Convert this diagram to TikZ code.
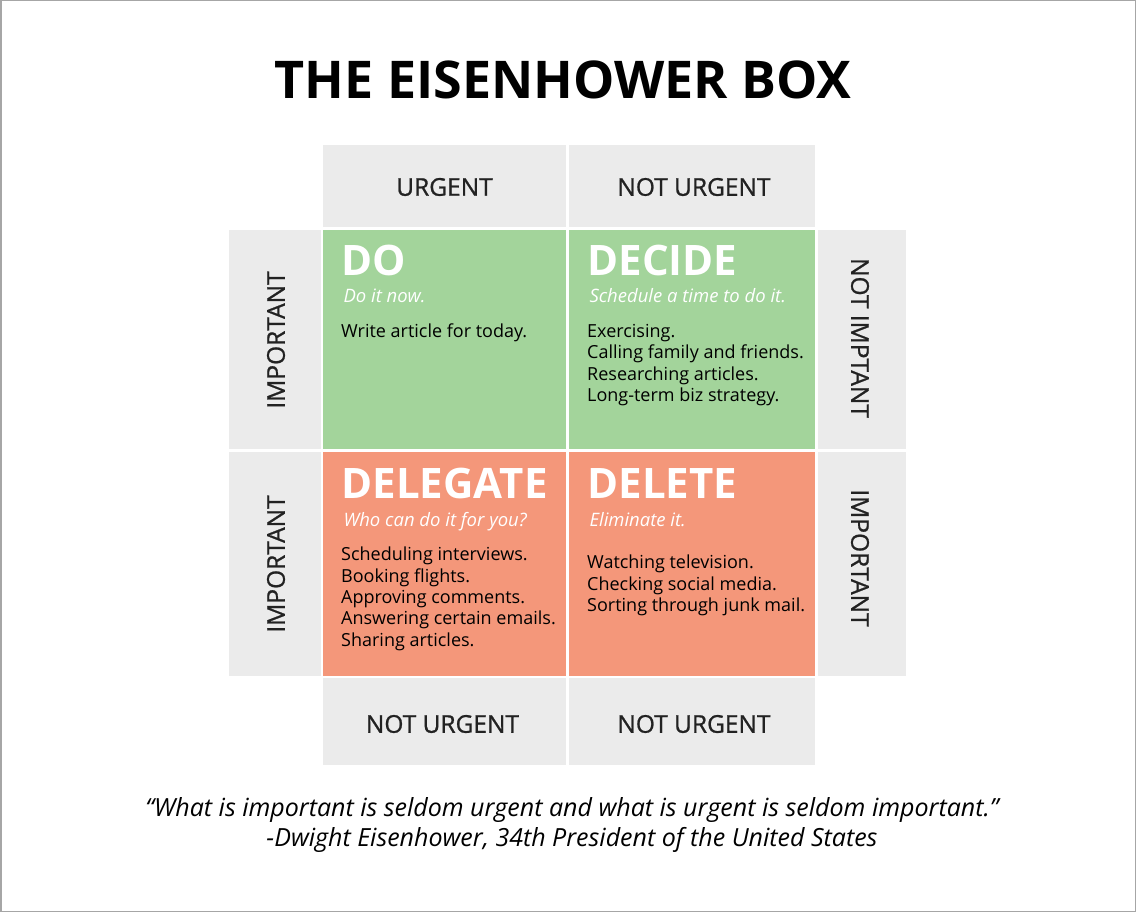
\documentclass[tikz,border=0pt]{standalone}
\usepackage{fontspec}
\setmainfont{Open Sans}
\newfontfamily\medf{Open Sans}[FakeBold=0.9]
\definecolor{gcell}{HTML}{EBEBEB}
\definecolor{grn}{HTML}{A3D49B}
\definecolor{red}{HTML}{F4977A}
\definecolor{ink}{HTML}{222222}
\begin{document}
\begin{tikzpicture}[x=1pt,y=-1pt,
 cell/.style={fill=gcell,draw=none},
 lab/.style={font=\medf\fontsize{24.5}{28}\selectfont,text=ink},
 head/.style={anchor=base west,font=\fontsize{42}{46}\selectfont\bfseries,text=white},
 sub/.style={anchor=base west,font=\fontsize{18.5}{22}\selectfont\itshape,text=white},
 body/.style={anchor=north west,align=left,font=\fontsize{18}{21.3}\selectfont,text=black,inner sep=0pt}]
\useasboundingbox (0,0) rectangle (1136,912);
\fill[white] (0,0) rectangle (1136,912);
\draw[gray!70,line width=1.5] (0.75,0.75) rectangle (1135.25,911.25);
\node (title) at (563,80) {\fontsize{52}{56}\selectfont\bfseries THE EISENHOWER BOX};
% header cells
\fill[cell] (323,145) rectangle (566,227); \fill[cell] (569,145) rectangle (815,227);
\fill[cell] (323,678) rectangle (566,765); \fill[cell] (569,678) rectangle (815,765);
\fill[cell] (229,230) rectangle (321,449); \fill[cell] (229,452) rectangle (321,676);
\fill[cell] (818,230) rectangle (906,449); \fill[cell] (818,452) rectangle (906,676);
\node[lab] (u1) at (444.5,187) {URGENT};
\node[lab] (u2) at (694,187) {NOT URGENT};
\node[lab] (u3) at (442.5,724) {NOT URGENT};
\node[lab] (u4) at (694,724) {NOT URGENT};
\node[lab,rotate=90] (l1) at (276,340) {IMPORTANT};
\node[lab,rotate=90] (l2) at (276,564) {IMPORTANT};
\node[lab,rotate=-90] (r1) at (860,338) {NOT IMPTANT};
\node[lab,rotate=-90] (r2) at (860,558) {IMPORTANT};
% quadrants
\fill[grn] (323,230) rectangle (566,449); \fill[grn] (569,230) rectangle (815,449);
\fill[red] (323,452) rectangle (566,676); \fill[red] (569,452) rectangle (815,676);
\node[head] (h1) at (338,276) {DO};
\node[sub] (s1) at (340,303) {Do it now.};
\node[body] (b1) at (341,324) {Write article for today.};
\node[head] (h2) at (584,276) {DECIDE};
\node[sub] (s2) at (586,303) {Schedule a time to do it.};
\node[body] (b2) at (587,324) {Exercising.\\Calling family and friends.\\Researching articles.\\Long-term biz strategy.};
\node[head] (h3) at (338,498) {DELEGATE};
\node[sub] (s3) at (340,526) {Who can do it for you?};
\node[body] (b3) at (341,547) {Scheduling interviews.\\Booking flights.\\Approving comments.\\Answering certain emails.\\Sharing articles.};
\node[head] (h4) at (584,498) {DELETE};
\node[sub] (s4) at (586,526) {Eliminate it.};
\node[body] (b4) at (587,555) {Watching television.\\Checking social media.\\Sorting through junk mail.};
\node[align=center,font=\fontsize{25}{30}\selectfont\itshape] (q) at (572,825) {“What is important is seldom urgent and what is urgent is seldom important.”\\-Dwight Eisenhower, 34th President of the United States};
\end{tikzpicture}
\end{document}
